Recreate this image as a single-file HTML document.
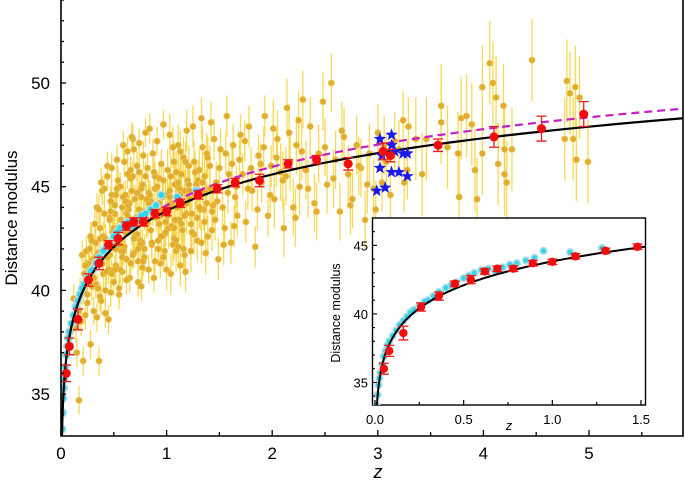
<!DOCTYPE html>
<html><head><meta charset="utf-8"><style>
html,body{margin:0;padding:0;background:#fff;}
svg{display:block;font-family:"Liberation Sans",Arial,sans-serif;}
</style></head><body>
<svg id="chart" width="685" height="482" viewBox="0 0 685 482"></svg>
<script>
// ---- data ----
const goldZ=[.12,.14,.15,.17,.18,.2,.21,.22,.23,.24,.25,.26,.27,.28,.29,.3,.17,.19,.24,.28,
.31,.32,.33,.34,.35,.36,.37,.38,.39,.4,.41,.42,.43,.44,.45,.46,.47,.48,.49,.5,.32,.34,.36,.38,.4,.42,.44,.46,.48,.5,.37,.41,.45,.33,.47,
.51,.52,.53,.54,.55,.56,.57,.58,.59,.6,.61,.62,.63,.64,.65,.66,.67,.68,.69,.7,.71,.72,.73,.74,.75,.76,.77,.78,.79,.8,.52,.54,.56,.58,.6,.62,.64,.66,.68,.7,.72,.74,.76,.78,.8,.53,.57,.61,.65,.69,.73,.77,.55,.63,.71,.79,.59,.67,.75,.51,
.81,.82,.83,.84,.85,.86,.87,.88,.89,.9,.91,.92,.93,.94,.95,.96,.97,.98,.99,1.0,1.01,1.02,1.03,1.04,1.05,1.06,1.07,1.08,1.09,1.1,1.11,1.12,1.13,1.14,1.15,1.16,1.17,1.18,1.19,1.2,.83,.87,.91,.95,.99,1.03,1.07,1.11,1.15,1.19,.85,.93,1.01,1.09,1.17,.89,.97,1.05,1.13,.81,
1.21,1.23,1.25,1.27,1.29,1.31,1.33,1.35,1.37,1.39,1.41,1.43,1.45,1.47,1.49,1.51,1.53,1.55,1.57,1.59,1.61,1.63,1.65,1.67,1.69,1.22,1.26,1.3,1.34,1.38,1.42,1.46,1.5,1.54,1.58,1.62,1.66,1.7,1.24,1.36,1.48,1.56,1.64,1.28,1.44,
1.72,1.75,1.78,1.81,1.84,1.87,1.9,1.93,1.96,1.99,2.02,2.05,2.08,2.11,2.14,2.17,2.2,2.23,2.26,2.29,1.74,1.8,1.86,1.92,1.98,2.04,2.1,2.16,2.22,2.28,1.77,1.89,2.01,2.13,2.25,
2.32,2.36,2.4,2.44,2.48,2.52,2.56,2.6,2.64,2.68,2.72,2.76,2.8,2.84,2.88,2.92,2.96,3.0,3.04,3.08,3.12,3.16,3.2,3.24,3.28,2.34,2.42,2.5,2.58,2.66,2.74,2.82,2.9,2.98,3.06,
3.25,3.29,3.36,3.42,3.46,3.6,3.6,3.66,3.76,3.77,3.79,3.84,3.89,3.92,3.94,3.99,3.99,4.06,4.09,4.12,4.14,4.19,4.2,4.2,4.22,4.27,4.46,4.77,4.79,4.82,4.85,4.87,4.91,4.88,4.99];
const goldMu=[39.6,38.2,37.0,34.7,39.9,41.7,36.6,40.8,38.8,41.9,39.4,41.3,42.0,37.4,40.2,41.5,39.0,38.5,40.4,42.6,
39.0,43.2,40.3,44.0,41.8,36.6,42.5,39.5,44.8,40.8,43.7,38.9,42.1,45.5,41.0,43.5,39.9,44.6,42.8,40.4,41.5,38.7,43.9,45.2,42.6,40.0,46.0,41.7,45.9,43.0,39.7,44.9,38.6,42.3,44.3,
44.1,41.2,46.3,42.7,39.8,45.0,43.4,40.9,47.0,42.1,44.6,41.5,46.7,43.9,40.6,45.4,42.9,47.3,41.8,44.4,43.1,46.0,40.4,45.7,42.4,44.9,41.1,46.5,43.6,47.6,42.0,45.3,41.0,44.0,46.2,40.5,43.3,45.8,41.7,42.6,44.7,47.1,40.2,43.8,45.5,43.0,41.9,42.8,44.2,46.8,41.4,42.3,40.1,45.6,43.5,41.6,44.5,47.4,42.2,43.7,
43.2,45.9,41.0,47.8,44.3,42.2,46.6,40.6,44.9,43.5,47.2,42.0,45.4,41.3,46.1,43.9,48.0,42.7,44.6,41.0,45.8,43.0,47.5,40.8,44.2,46.9,42.5,45.1,41.9,44.0,47.0,43.4,41.2,45.6,42.9,46.4,44.8,40.9,43.7,45.3,44.7,43.8,45.0,42.6,43.3,44.5,46.2,42.1,44.1,47.7,42.9,44.2,43.6,45.7,41.7,45.5,41.6,43.1,46.7,44.4,
46.0,43.2,47.9,44.6,42.4,45.8,48.3,43.9,41.8,46.4,44.9,42.9,47.3,45.2,41.5,46.8,44.0,43.0,48.4,45.6,42.3,47.0,44.5,43.6,46.3,44.8,42.7,45.3,46.9,44.2,48.1,43.4,45.9,42.2,44.7,46.1,45.0,47.5,43.7,45.5,44.3,46.6,43.1,45.1,44.1,
45.6,43.3,47.9,44.8,42.1,46.5,45.2,48.4,43.6,46.0,44.4,47.3,45.7,43.0,48.8,46.2,44.0,47.0,45.0,49.2,47.2,45.9,43.9,46.9,44.6,46.4,45.3,47.6,43.5,46.7,44.9,46.1,47.8,45.5,48.2,
45.8,47.9,44.2,46.6,49.1,45.1,50.0,46.3,43.8,47.4,45.6,44.4,47.0,45.9,43.4,46.6,44.9,47.6,45.2,46.2,44.6,47.2,46.8,48.2,45.8,44.9,43.8,46.9,45.4,47.7,44.1,46.0,45.1,43.9,47.0,
45.2,47.9,47.3,45.6,47.3,48.9,48.1,46.9,46.6,44.5,48.3,48.4,48.0,45.8,44.4,46.6,49.8,50.95,50.0,49.3,46.1,48.9,46.8,45.6,45.2,46.8,51.1,47.3,50.1,49.5,47.3,49.8,49.3,46.3,46.2];
const goldZ2=[.42,.47,.52,.57,.62,.67,.72,.77,.82,.87,.92,.97,1.02,1.07,1.12,1.17,1.22,1.27,1.32,1.37,
.44,.49,.54,.59,.64,.69,.74,.79,.84,.89,.94,.99,1.04,1.09,1.14,1.19,1.24,1.29,1.34,1.39,
.46,.51,.56,.61,.66,.71,.76,.81,.86,.91,.96,1.01,1.06,1.11,1.16,1.21,1.26,1.31,1.36,1.41,
.48,.53,.58,.63,.68,.73,.78,.83,.88,.93,.98,1.03,1.08,1.13,1.18,1.23,1.28,1.33,1.38,1.43,
.21,.23,.25,.27,.29,.31,.33,.35,.37,.39,.41,.43];
const goldMu2=[42.5,43.8,44.6,42.9,43.7,44.8,42.7,45.1,43.3,44.0,42.4,45.3,44.1,43.0,44.9,43.6,44.4,45.7,43.9,44.7,
41.6,42.3,43.0,41.9,44.1,42.5,43.9,42.0,44.6,41.4,43.6,42.8,45.5,42.4,43.2,44.2,42.8,43.5,45.2,42.6,
43.4,41.0,42.2,44.3,41.3,43.1,44.5,43.4,42.3,45.0,44.5,43.9,42.2,45.2,42.0,45.1,46.2,44.0,43.3,46.0,
40.8,44.9,41.6,43.6,45.5,42.0,41.4,44.2,45.7,43.2,41.9,44.8,43.4,44.6,46.2,41.9,44.9,42.3,46.6,43.8,
40.0,41.2,39.8,41.0,42.4,40.6,41.6,40.1,43.0,41.3,42.0,40.9];
const cyanZ=[.01,.015,.02,.025,.03,.04,.05,.06,.07,.08,.1,.12,.14,.16,.18,.2,.22,.25,.28,.3,.33,.36,.4,.43,.46,.5,.53,.56,.6,.64,.68,.72,.76,.8,.85,.9,.95,1.1,1.28];
const cyanMu=[33.3,34.1,34.8,35.3,35.7,36.3,36.9,37.3,37.7,38.0,38.4,38.8,39.2,39.5,39.8,40.1,40.3,40.6,40.9,41.0,41.3,41.6,41.9,42.1,42.3,42.6,42.8,43.0,43.2,43.3,43.1,43.4,43.6,43.7,43.9,44.1,44.6,44.5,44.8];
const redZ=[0.05,0.08,0.16,0.26,0.36,0.45,0.54,0.62,0.69,0.78,0.89,1.0,1.13,1.3,1.48,1.65,1.88,2.15,2.42,2.72,3.05,3.12,3.57,4.1,4.55,4.95];
const redMu=[36.0,37.3,38.6,40.5,41.3,42.2,42.5,43.1,43.3,43.3,43.7,43.8,44.2,44.6,44.9,45.2,45.3,46.1,46.3,46.1,46.7,46.5,47.0,47.4,47.8,48.5];
const redErr=[0.4,0.4,0.5,0.3,0.3,0.2,0.3,0.2,0.2,0.2,0.2,0.2,0.2,0.2,0.2,0.2,0.3,0.2,0.2,0.3,0.4,0.3,0.3,0.5,0.6,0.6];
const starZ=[3.02,3.13,3.24,3.28,3.04,3.02,3.13,3.2,3.28,2.99,3.07,3.13,3.16];
const starMu=[47.3,47.5,46.6,46.6,46.5,45.9,45.7,45.7,45.5,44.8,44.95,47.0,46.7];
const xTicks=[0,1,2,3,4,5];
const yTicks=[35,40,45,50];
const inXTicks=[0,0.5,1.0,1.5];
const inXLabels=["0.0","0.5","1.0","1.5"];
const inYTicks=[35,40,45];

const NS="http://www.w3.org/2000/svg";
const svg=document.getElementById('chart');
function mk(tag,attrs,parent){const e=document.createElementNS(NS,tag);for(const k in attrs)e.setAttribute(k,attrs[k]);(parent||svg).appendChild(e);return e;}

function muModel(z,om){const n=200;let s=0;for(let i=0;i<n;i++){const zz=(i+0.5)*z/n;s+=1/Math.sqrt(om*Math.pow(1+zz,3)+1-om);}s*=z/n;const dl=(1+z)*4282.7*s;return 5*Math.log10(dl)+25;}
function makeAxes(x0,x1,y0,y1,zmin,zmax,mmin,mmax){
  return {sx:z=>x0+(z-zmin)/(zmax-zmin)*(x1-x0), sy:m=>y1-(m-mmin)/(mmax-mmin)*(y1-y0)};
}
const M=makeAxes(61,683,0,436,0,5.89,32.98,54.0);
const gMain=mk('g',{});


const cpm=mk('clipPath',{id:'cm'});
mk('rect',{x:61,y:0,width:622,height:436},cpm);
const gm=mk('g',{'clip-path':'url(#cm)'},gMain);
const gGold=mk('g',{},gm);


const GZ=goldZ.slice(0,Math.min(goldZ.length,goldMu.length)).concat(goldZ2.slice(0,Math.min(goldZ2.length,goldMu2.length)));
const GM=goldMu.slice(0,Math.min(goldZ.length,goldMu.length)).concat(goldMu2.slice(0,Math.min(goldZ2.length,goldMu2.length)));
for(let i=0;i<GZ.length;i++){
  const z=GZ[i],m=GM[i];const e=z<1?0.7:(z<2?1.0:(z<3.3?1.4:2.0));
  const x=M.sx(z);
  const l=mk('line',{x1:x,x2:x,y1:M.sy(m-e),y2:M.sy(m+e),stroke:'#f7d33a','stroke-width':1.3,opacity:0.85},gGold);
  
  
}
for(let i=0;i<GZ.length;i++){
  const c=mk('circle',{cx:M.sx(GZ[i]),cy:M.sy(GM[i]),r:3.1,fill:'#e0ae2c',stroke:'#eec55a','stroke-width':0.6},gGold);
  
  
}
function drawCyan(A,g,r){
  for(let i=0;i<Math.min(cyanZ.length,cyanMu.length);i++){
    const c=mk('circle',{cx:A.sx(cyanZ[i]),cy:A.sy(cyanMu[i]),r:r+1.5,fill:'#b4dde6'},g);
    
    
  }
  for(let i=0;i<Math.min(cyanZ.length,cyanMu.length);i++){
    const c=mk('circle',{cx:A.sx(cyanZ[i]),cy:A.sy(cyanMu[i]),r:r,fill:'#33d8e8'},g);
    
    
  }
}
const gCy=mk('g',{},gm);


drawCyan(M,gCy,3);
function curvePath(A,om,z0,z1){let d='';const n=300;for(let i=0;i<=n;i++){const z=z0*Math.pow(z1/z0,i/n);d+=(i?'L':'M')+A.sx(z).toFixed(2)+','+A.sy(muModel(z,om)).toFixed(2);}return d;}
const dash=mk('path',{d:curvePath(M,0.3,0.75,5.95),fill:'none',stroke:'#c41fc4','stroke-width':2.2,'stroke-dasharray':'8,5'},gm);


const blk=mk('path',{d:curvePath(M,0.55,0.008,5.95),fill:'none',stroke:'#000','stroke-width':2.2},gm);


function drawRed(A,g,maxz,r){
  for(let i=0;i<redZ.length;i++){
    if(redZ[i]>maxz)continue;
    const x=A.sx(redZ[i]),y=A.sy(redMu[i]),y1=A.sy(redMu[i]-redErr[i]),y2=A.sy(redMu[i]+redErr[i]);
    const e=mk('path',{d:`M${x},${y1}V${y2}M${x-5},${y1}H${x+5}M${x-5},${y2}H${x+5}`,stroke:'#ee1c1c','stroke-width':1.3,fill:'none'},g);
    
    
    const c=mk('circle',{cx:x,cy:y,r:r,fill:'#f20d0d'},g);
    
    
  }
}
const gStar=mk('g',{},gm);


function starD(cx,cy,R){let d='';for(let k=0;k<10;k++){const a=-Math.PI/2+k*Math.PI/5;const rr=k%2?R*0.42:R;d+=(k?'L':'M')+(cx+rr*Math.cos(a)).toFixed(2)+','+(cy+rr*Math.sin(a)).toFixed(2);}return d+'Z';}
for(let i=0;i<starZ.length;i++){
  const s=mk('path',{d:starD(M.sx(starZ[i]),M.sy(starMu[i]),6.5),fill:'#1a1af0'},gStar);
  
  
}
const gRed=mk('g',{},gm);


drawRed(M,gRed,10,4.5);
const fr=mk('path',{d:'M61,0V436H683V0',fill:'none',stroke:'#000','stroke-width':1.6},gMain);


for(let v=0;v<=5.5;v+=0.5){const x=M.sx(v);mk('line',{x1:x,x2:x,y1:436,y2:v%1?432:430,stroke:'#000','stroke-width':1.3},gMain);}
for(let v=34;v<=54;v+=1){const y=M.sy(v);mk('line',{x1:61,x2:v%5?64:66,y1:y,y2:y,stroke:'#000','stroke-width':1.3},gMain);}
xTicks.forEach(v=>{const t=mk('text',{x:M.sx(v),y:459,'font-size':17,'text-anchor':'middle',fill:'#000'},gMain);t.textContent=v;});
yTicks.forEach(v=>{const t=mk('text',{x:50,y:M.sy(v)+6,'font-size':17,'text-anchor':'end',fill:'#000'},gMain);t.textContent=v;});
const xt=mk('text',{x:378,y:478,'font-size':18,'font-style':'italic','text-anchor':'middle'},gMain);xt.textContent='z';

const yt=mk('text',{x:0,y:0,'font-size':17,'text-anchor':'middle',transform:'translate(17,218) rotate(-90)'},gMain);yt.textContent='Distance modulus';


// inset
const gIn=mk('g',{});


const bg=mk('rect',{x:372.5,y:218,width:273,height:187,fill:'#fff',stroke:'#000','stroke-width':1.4},gIn);

const I=makeAxes(375,641,218,405,0,1.5,33.35,47.0);
const cpi=mk('clipPath',{id:'ci'});
mk('rect',{x:373,y:218,width:272,height:187},cpi);
const gi=mk('g',{'clip-path':'url(#ci)'},gIn);
drawCyan(I,gi,2.6);
const blk2=mk('path',{d:curvePath(I,0.55,0.008,1.6),fill:'none',stroke:'#000','stroke-width':2},gi);

drawRed(I,gi,1.5,4.2);
for(let v=0;v<=1.5;v+=0.25){const x=I.sx(v);mk('line',{x1:x,x2:x,y1:405,y2:(Math.round(v*4)%2)?402:400,stroke:'#000','stroke-width':1.2},gIn);}
for(let v=34;v<=46;v+=1){const y=I.sy(v);mk('line',{x1:372.5,x2:v%5?375:377,y1:y,y2:y,stroke:'#000','stroke-width':1.1},gIn);}
inXTicks.forEach((v,i)=>{const t=mk('text',{x:I.sx(v),y:424,'font-size':13,'text-anchor':'middle'},gIn);t.textContent=inXLabels[i];});
inYTicks.forEach(v=>{const t=mk('text',{x:368,y:I.sy(v)+5,'font-size':13,'text-anchor':'end'},gIn);t.textContent=v;});
const ixt=mk('text',{x:509,y:430,'font-size':13,'font-style':'italic','text-anchor':'middle'},gIn);ixt.textContent='z';

const iyt=mk('text',{x:0,y:0,'font-size':12.5,'text-anchor':'middle',transform:'translate(340,313) rotate(-90)'},gIn);iyt.textContent='Distance modulus';

</script>
</body></html>
